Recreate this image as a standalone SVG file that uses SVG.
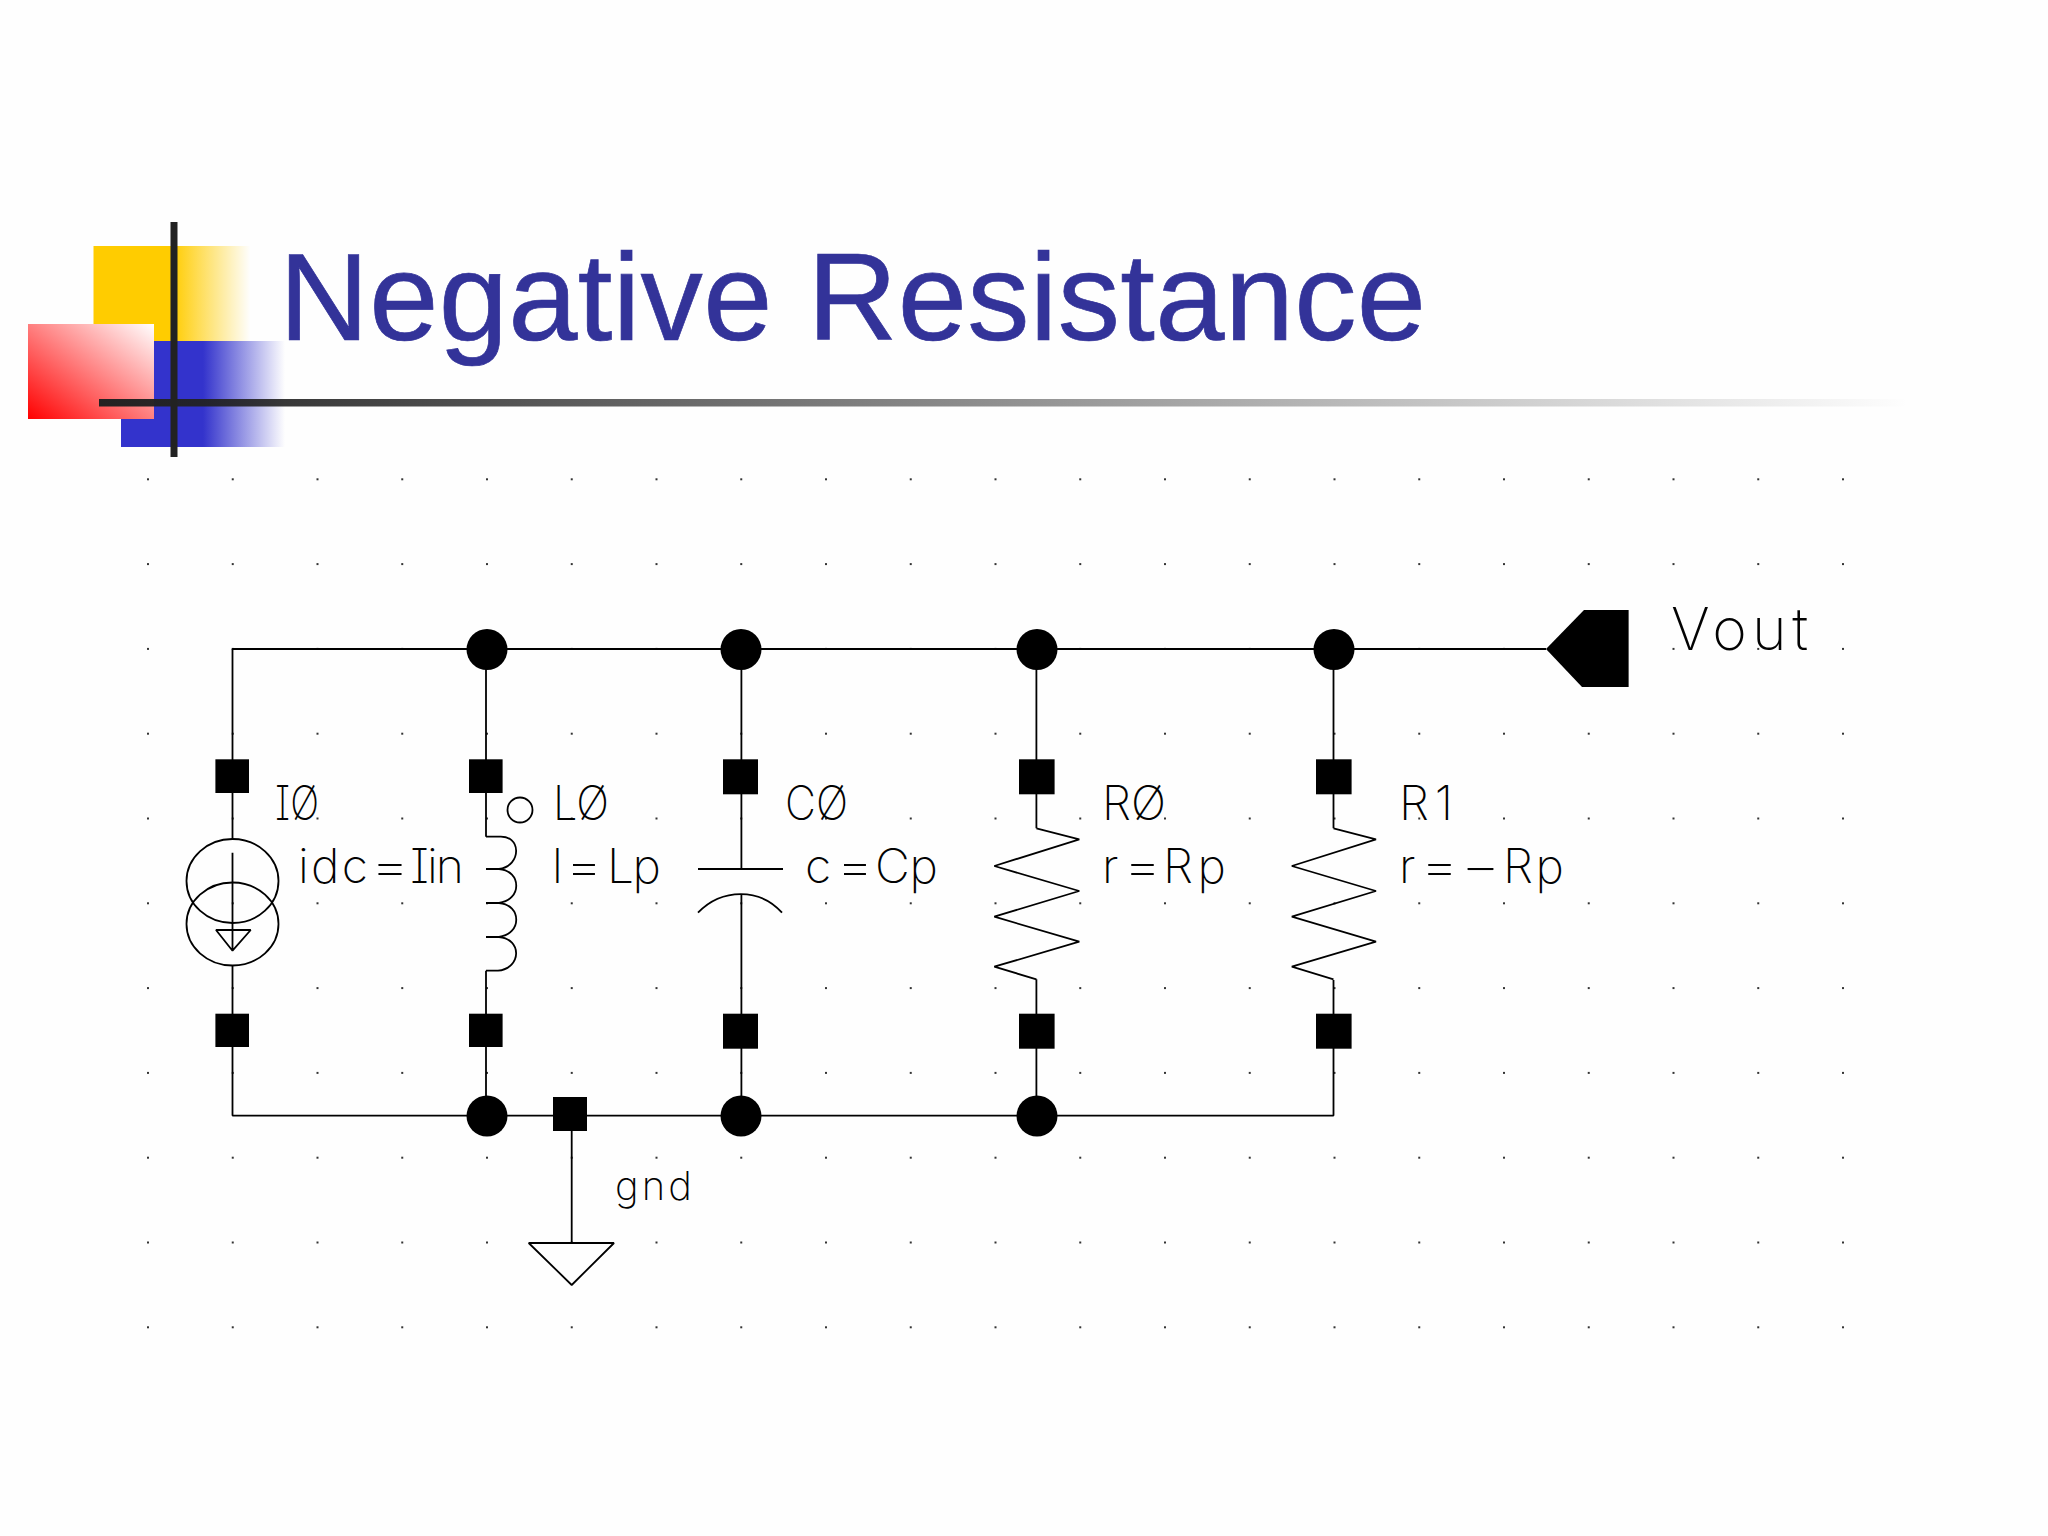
<svg xmlns="http://www.w3.org/2000/svg" width="2048" height="1536" viewBox="0 0 2048 1536">
<style>
.w{fill:none;stroke:#000;stroke-width:1.8;stroke-linejoin:bevel}
.k{fill:#000;stroke:none}
.t{font-family:Inter,"Open Sans","Liberation Sans",sans-serif;font-weight:150;font-size:48px;fill:#000;font-feature-settings:"cv08";opacity:.99}
.title{font-family:"Liberation Sans",Arial,sans-serif;font-size:124.5px;fill:#333399;stroke:#333399;stroke-width:.7}
</style>
<defs>
<linearGradient id="gy" x1="0" x2="1" y1="0" y2="0"><stop offset="0" stop-color="#ffcc00"/><stop offset=".5" stop-color="#ffcc00"/><stop offset="1" stop-color="#ffcc00" stop-opacity="0"/></linearGradient>
<linearGradient id="gb" x1="0" x2="1" y1="0" y2="0"><stop offset="0" stop-color="#3333cc"/><stop offset=".5" stop-color="#3333cc"/><stop offset="1" stop-color="#3333cc" stop-opacity="0"/></linearGradient>
<linearGradient id="gr" x1="0" x2="1" y1="1" y2="0"><stop offset="0" stop-color="#ff0000"/><stop offset="1" stop-color="#ffffff"/></linearGradient>
<linearGradient id="gk" x1="0" x2="1" y1="0" y2="0"><stop offset="0" stop-color="#222222"/><stop offset="1" stop-color="#222222" stop-opacity="0"/></linearGradient>
<pattern id="dots" patternUnits="userSpaceOnUse" x="147" y="478.3" width="84.75" height="84.8"><rect x="0" y="0" width="2" height="2" fill="#333"/></pattern>
</defs>
<rect width="2048" height="1536" fill="#fefefe"/>
<g id="decor">
<rect x="93.5" y="246" width="157" height="95" fill="url(#gy)"/>
<rect x="121" y="341" width="164" height="106" fill="url(#gb)"/>
<rect x="28" y="324" width="126" height="95" fill="url(#gr)"/>
<rect x="170.5" y="222" width="7" height="235" fill="#222"/>
<rect x="99" y="399" width="1810" height="7.5" fill="url(#gk)"/>
</g>
<text id="title" class="title" x="279" y="340" textLength="1147">Negative Resistance</text>
<rect id="grid" x="147" y="478" width="1700" height="852" fill="url(#dots)"/>
<g id="connectors">
<path class="w" d="M232.5 839V649H1546M232.5 965V1115.6H1333.5V980M486 649V836.7M486 970.7V1115.6M741.4 649V869M741.4 895V1115.6M1036.4 649V828.3M1036.4 979.3V1115.6M1333.5 649V828.3M571.7 1115.6V1243"/>
</g>
<g id="I0">
<ellipse class="w" cx="232.5" cy="881" rx="46" ry="42"/>
<ellipse class="w" cx="232.5" cy="924" rx="46" ry="41.5"/>
<path class="w" d="M232.5 852.7V950.7M216 930H250.7L232.5 950.7Z"/>
<rect class="k" x="215.4" y="759.3" width="33.6" height="33.7"/>
<rect class="k" x="215.4" y="1013.7" width="33.6" height="33.3"/>
<text class="t" x="275" y="820" textLength="44" lengthAdjust="spacingAndGlyphs">IØ</text>
<text class="t" y="883"><tspan x="298" textLength="70">idc</tspan><tspan x="370" textLength="40" lengthAdjust="spacingAndGlyphs">=</tspan><tspan x="410" textLength="54">Iin</tspan></text>
</g>
<g id="L0">
<circle class="w" cx="520" cy="810" r="12.5"/>
<path class="w" d="M486 836.7H498C522 834 522 866 499 869H486M499 869C522 871 522 900 499 903H486M499 903C522 905 522 934 499 937H486M499 937C522 939 522 968 498 970.7H486"/>
<rect class="k" x="469" y="759.3" width="33.6" height="33.7"/>
<rect class="k" x="469" y="1013.7" width="33.6" height="33.3"/>
<text class="t" x="553" y="820" textLength="56" lengthAdjust="spacingAndGlyphs">LØ</text>
<text class="t" y="883"><tspan x="552">l</tspan><tspan x="565" textLength="38" lengthAdjust="spacingAndGlyphs">=</tspan><tspan x="607" textLength="54">Lp</tspan></text>
</g>
<g id="C0">
<path class="w" d="M698 869H783M698 912.7C722 888 760 888 782 912.7"/>
<rect class="k" x="723" y="759.3" width="35" height="35"/>
<rect class="k" x="723" y="1013.7" width="35" height="35"/>
<text class="t" x="785" y="820" textLength="63" lengthAdjust="spacingAndGlyphs">CØ</text>
<text class="t" y="883"><tspan x="805">c</tspan><tspan x="836" textLength="38" lengthAdjust="spacingAndGlyphs">=</tspan><tspan x="875" textLength="63">Cp</tspan></text>
</g>
<g id="R0">
<path class="w" d="M1036.4 828.3L1079.3 839.3L994.3 866L1079.3 891L994.3 916.7L1079.3 941.7L994.3 966.7L1036.4 979.3"/>
<rect class="k" x="1019" y="759.3" width="35.6" height="35"/>
<rect class="k" x="1019" y="1013.7" width="35.6" height="35"/>
<text class="t" x="1102" y="820" textLength="64" lengthAdjust="spacingAndGlyphs">RØ</text>
<text class="t" y="883"><tspan x="1102">r</tspan><tspan x="1123" textLength="39" lengthAdjust="spacingAndGlyphs">=</tspan><tspan x="1163" textLength="63">Rp</tspan></text>
</g>
<g id="R1">
<path class="w" d="M1333.5 828.3L1376 839.3L1291.8 866L1376 891L1291.8 916.7L1376 941.7L1291.8 966.7L1333.5 979.3"/>
<rect class="k" x="1316" y="759.3" width="35.6" height="35"/>
<rect class="k" x="1316" y="1013.7" width="35.6" height="35"/>
<text class="t" x="1399" y="820" textLength="54">R1</text>
<text class="t" y="883"><tspan x="1399">r</tspan><tspan x="1420" textLength="39" lengthAdjust="spacingAndGlyphs">=</tspan><tspan x="1461" textLength="39" lengthAdjust="spacingAndGlyphs">−</tspan><tspan x="1503" textLength="61">Rp</tspan></text>
</g>
<g id="gnd">
<rect class="k" x="553" y="1097" width="34" height="34"/>
<path class="w" d="M528.7 1243H614L571.7 1285Z"/>
<text class="t" x="615" y="1200" style="font-size:40px" textLength="77">gnd</text>
</g>
<g id="Vout">
<path class="k" d="M1546 649L1584 610H1628.6V687H1582Z"/>
<text class="t" x="1671" y="650" style="font-size:59px" textLength="137">Vout</text>
</g>
<g id="junctions" class="k">
<circle cx="487" cy="649.5" r="20.5"/><circle cx="741" cy="649.5" r="20.5"/><circle cx="1037" cy="649.5" r="20.5"/><circle cx="1334" cy="649.5" r="20.5"/>
<circle cx="487" cy="1116" r="20.5"/><circle cx="741" cy="1116" r="20.5"/><circle cx="1037" cy="1116" r="20.5"/>
</g>
</svg>
